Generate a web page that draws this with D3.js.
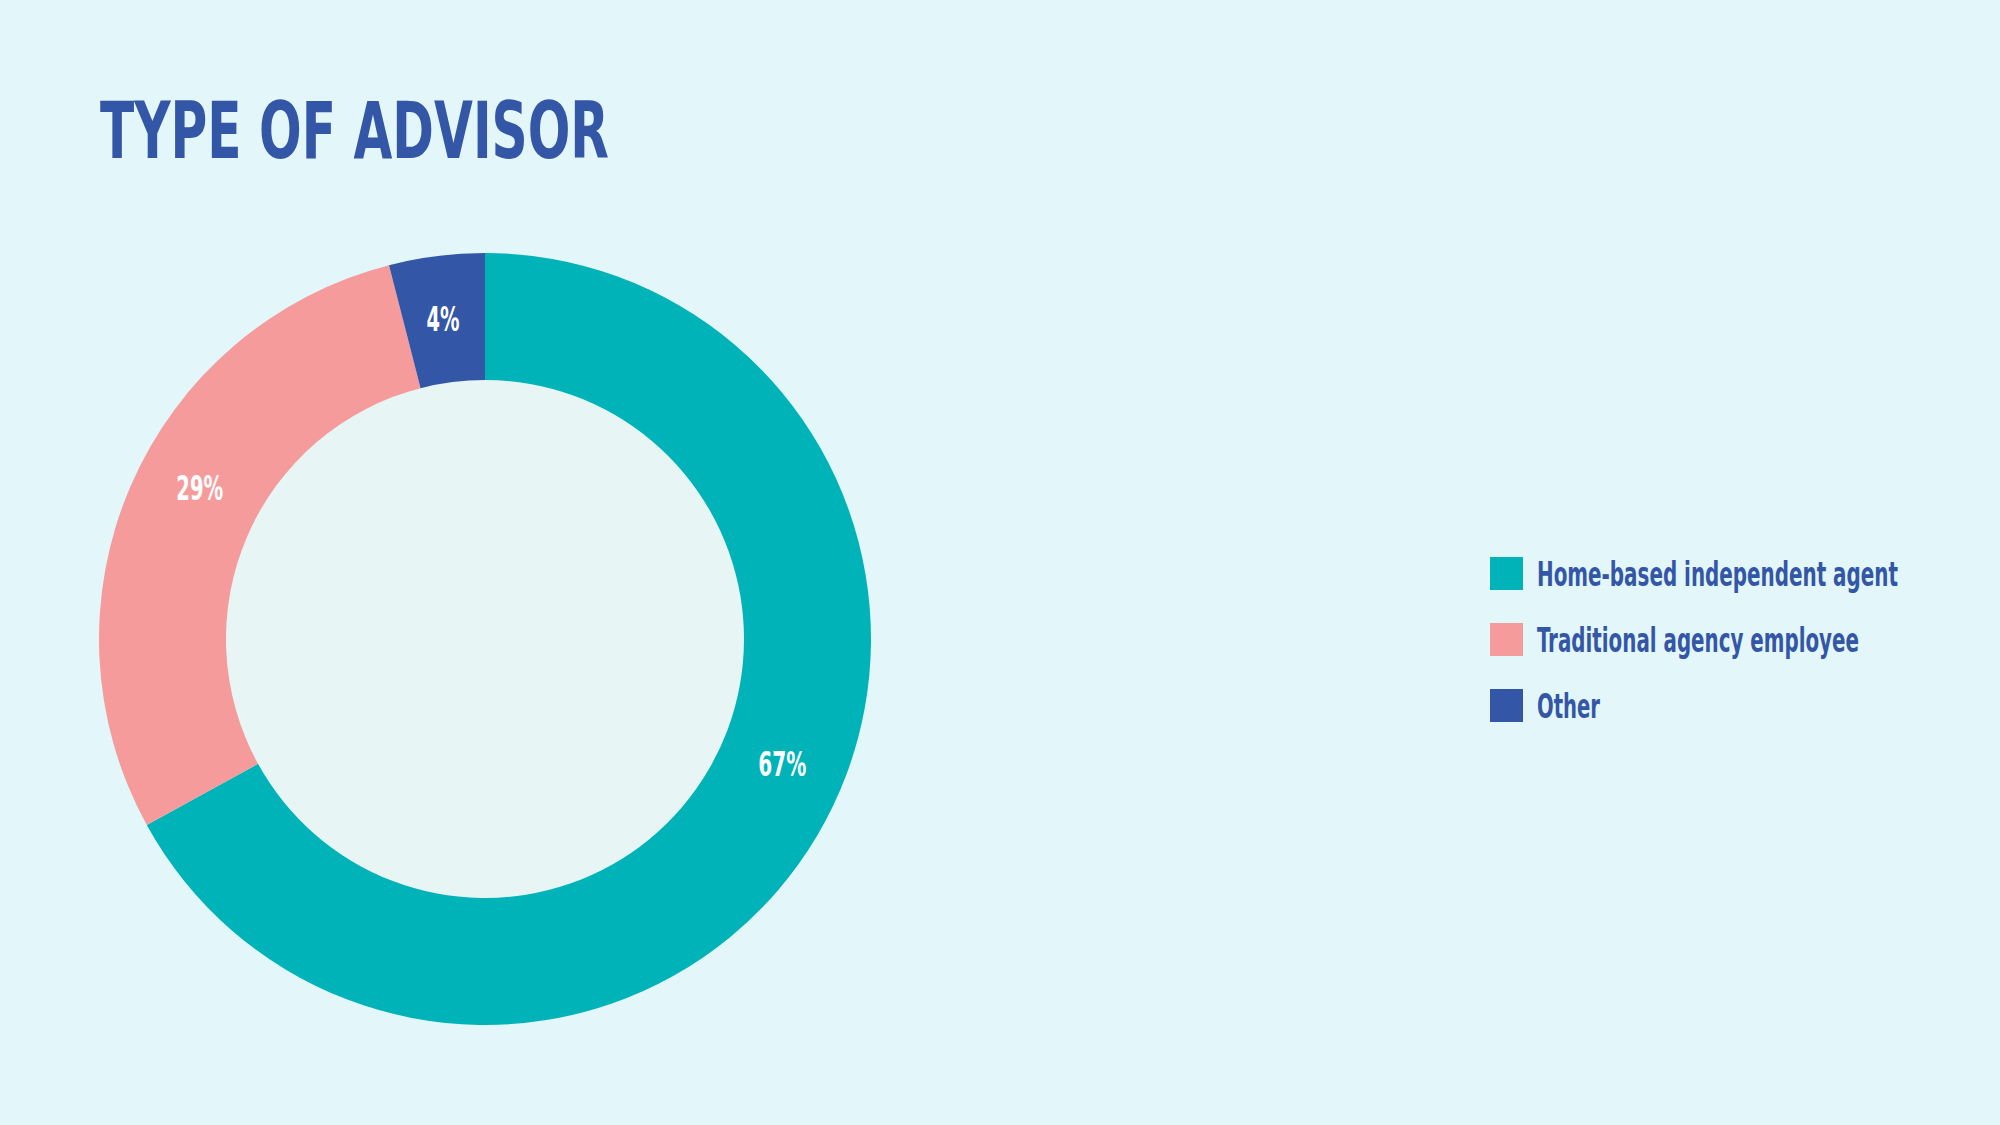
<!DOCTYPE html>
<html>
<head>
<meta charset="utf-8">
<script src="https://cdn.jsdelivr.net/npm/d3@7"></script>
<style>
  html, body { margin: 0; padding: 0; background: #e3f6f9; }
  svg { display: block; }
</style>
</head>
<body>
<svg id="chart" width="2000" height="1125"></svg>
<script>
const categories = ['Home-based independent agent', 'Traditional agency employee', 'Other'];
const values = [67, 29, 4];
const colors = ['#00b3b8', '#f69b9b', '#3456a6'];

const width = 2000, height = 1125;
const font = '"Liberation Sans Narrow", "DejaVu Sans Condensed", "Roboto Condensed", sans-serif';
const textColor = '#3456a6';

const svg = d3.select('#chart');

svg.append('rect')
  .attr('width', width)
  .attr('height', height)
  .attr('fill', '#e3f6f9');

// title
svg.append('text')
  .attr('x', 100)
  .attr('y', 158)
  .attr('textLength', 509)
  .attr('lengthAdjust', 'spacingAndGlyphs')
  .style('font-family', font)
  .style('font-weight', 'bold')
  .style('font-size', '78px')
  .attr('fill', textColor)
  .text('TYPE OF ADVISOR');

const cx = 485, cy = 639;
const outerR = 386, innerR = 259;

const pie = d3.pie().sort(null).value(d => d);
const arc = d3.arc().innerRadius(innerR).outerRadius(outerR);

const g = svg.append('g').attr('transform', `translate(${cx}, ${cy})`);

// slightly different fill inside the hole
g.append('circle')
  .attr('r', innerR)
  .attr('fill', '#e7f5f5');

const arcs = pie(values);

g.selectAll('path')
  .data(arcs)
  .enter()
  .append('path')
  .attr('d', arc)
  .attr('fill', (d, i) => colors[i]);

// labels sit in the ring, nudged along it a little (degrees)
const labelShift = [-7.8, 4.4, -0.3];
const labelWidths = [48, 47, 33];
const labelR = (innerR + outerR) / 2;

function labelPos(d, i) {
  const a = (d.startAngle + d.endAngle) / 2 + labelShift[i] * Math.PI / 180;
  return [labelR * Math.sin(a), -labelR * Math.cos(a)];
}

g.selectAll('text.label')
  .data(arcs)
  .enter()
  .append('text')
  .attr('class', 'label')
  .attr('transform', (d, i) => `translate(${labelPos(d, i)})`)
  .attr('dy', '0.35em')
  .attr('text-anchor', 'middle')
  .attr('textLength', (d, i) => labelWidths[i])
  .attr('lengthAdjust', 'spacingAndGlyphs')
  .style('font-family', font)
  .style('font-weight', 'bold')
  .style('font-size', '34px')
  .attr('fill', '#ffffff')
  .text(d => d.value + '%');

// legend
const legendY = d3.scaleBand()
  .domain(categories)
  .range([557, 557 + 66 * 3])
  .paddingInner(0);

const legendWidths = [361, 322, 63];
const legend = svg.append('g');

legend.selectAll('rect')
  .data(categories)
  .enter()
  .append('rect')
  .attr('x', 1490)
  .attr('y', d => legendY(d))
  .attr('width', 33)
  .attr('height', 33)
  .attr('fill', (d, i) => colors[i]);

legend.selectAll('text')
  .data(categories)
  .enter()
  .append('text')
  .attr('x', 1537)
  .attr('y', d => legendY(d) + 29)
  .attr('textLength', (d, i) => legendWidths[i])
  .attr('lengthAdjust', 'spacingAndGlyphs')
  .style('font-family', font)
  .style('font-weight', 'bold')
  .style('font-size', '33px')
  .attr('fill', textColor)
  .text(d => d);
</script>
</body>
</html>
